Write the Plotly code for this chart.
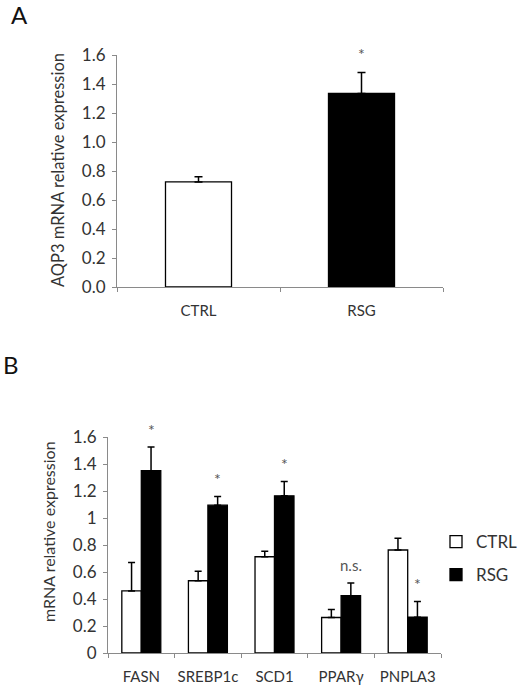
import plotly.graph_objects as go

# Panel A: AQP3 expression
a_groups = ["CTRL", "RSG"]
a_values = [0.725, 1.335]
a_errors = [0.035, 0.145]
a_sig = ["", "*"]

# Panel B: lipogenic genes
b_genes = ["FASN", "SREBP1c", "SCD1", "PPARγ", "PNPLA3"]
b_ctrl = [0.46, 0.535, 0.713, 0.263, 0.763]
b_ctrl_err = [0.21, 0.07, 0.04, 0.06, 0.087]
b_rsg = [1.35, 1.095, 1.164, 0.424, 0.265]
b_rsg_err = [0.175, 0.065, 0.106, 0.094, 0.116]
b_sig = ["*", "*", "*", "n.s.", "*"]

y_ticks = [0, 0.2, 0.4, 0.6, 0.8, 1.0, 1.2, 1.4, 1.6]
a_tick_text = ["0.0", "0.2", "0.4", "0.6", "0.8", "1.0", "1.2", "1.4", "1.6"]
b_tick_text = ["0", "0.2", "0.4", "0.6", "0.8", "1", "1.2", "1.4", "1.6"]

W, H = 520, 685
FONT = "Lato"
TXT = "#333333"
AXIS = "#8a8a8a"


def px_x(p):
    return p / W


def px_y(p):
    return 1 - p / H


fig = go.Figure()

fig.add_trace(go.Bar(
    x=a_groups, y=a_values, width=0.405,
    marker=dict(color=["white", "black"], line=dict(color="black", width=1.3)),
    error_y=dict(type="data", array=a_errors, arrayminus=[0] * len(a_errors), symmetric=False,
                 color="black", thickness=1.5, width=4),
    showlegend=False, xaxis="x", yaxis="y",
))

fig.add_trace(go.Bar(
    x=b_genes, y=b_ctrl, name="CTRL", legendgroup="ctrl",
    marker=dict(color="white", line=dict(color="black", width=1.3)),
    error_y=dict(type="data", array=b_ctrl_err, arrayminus=[0] * len(b_ctrl_err), symmetric=False,
                 color="black", thickness=1.5, width=3.5),
    xaxis="x2", yaxis="y2",
))
fig.add_trace(go.Bar(
    x=b_genes, y=b_rsg, name="RSG", legendgroup="rsg",
    marker=dict(color="black", line=dict(color="black", width=1.3)),
    error_y=dict(type="data", array=b_rsg_err, arrayminus=[0] * len(b_rsg_err), symmetric=False,
                 color="black", thickness=1.5, width=3.5),
    xaxis="x2", yaxis="y2",
))

common_x = dict(showline=True, linecolor=AXIS, linewidth=1, ticks="outside", tickson="boundaries",
                ticklen=4, tickcolor=AXIS, showgrid=False, zeroline=False, tickangle=0,
                tickfont=dict(family=FONT, size=15, color=TXT), ticklabelstandoff=10)
common_y = dict(showline=True, linecolor=AXIS, linewidth=1, ticks="outside", ticklen=4,
                tickcolor=AXIS, showgrid=False, zeroline=False, range=[0, 1.6],
                tickvals=y_ticks, tickfont=dict(family=FONT, size=17, color=TXT),
                ticklabelstandoff=3)

annotations = []
# significance marks, placed just above the error bar caps
for g, v, e, s in zip(a_groups, a_values, a_errors, a_sig):
    if s:
        annotations.append(dict(x=g, y=v + e, xref="x", yref="y", text=s, showarrow=False,
                                yanchor="middle", yshift=19,
                                font=dict(family=FONT, size=16, color="#555555")))
for g, v, e, s in zip(b_genes, b_rsg, b_rsg_err, b_sig):
    annotations.append(dict(x=g, y=v + e, xref="x2", yref="y2", text=s, showarrow=False,
                            xshift=10, yanchor="middle", yshift=18,
                            font=dict(family=FONT, size=15 if s == "n.s." else 16, color="#555555")))

# axis titles and panel letters
annotations += [
    dict(x=px_x(58), y=px_y(170), xref="paper", yref="paper", text="AQP3 mRNA relative expression",
         textangle=-90, showarrow=False, xanchor="center", yanchor="middle",
         font=dict(family=FONT, size=16.5, color=TXT)),
    dict(x=px_x(48), y=px_y(532), xref="paper", yref="paper", text="mRNA relative expression",
         textangle=-90, showarrow=False, xanchor="center", yanchor="middle",
         font=dict(family=FONT, size=16, color=TXT)),
    dict(x=px_x(19), y=px_y(15), xref="paper", yref="paper", text="A",
         showarrow=False, xanchor="center", yanchor="middle",
         font=dict(family=FONT, size=24, color="#111111")),
    dict(x=px_x(11), y=px_y(364), xref="paper", yref="paper", text="B",
         showarrow=False, xanchor="center", yanchor="middle",
         font=dict(family=FONT, size=24, color="#111111")),
]

fig.update_layout(
    width=W, height=H,
    margin=dict(l=0, r=0, t=0, b=0, autoexpand=False),
    paper_bgcolor="white", plot_bgcolor="white",
    barmode="group", bargap=0.415, bargroupgap=0,
    xaxis=dict(domain=[px_x(117), px_x(443)], anchor="y", **common_x),
    yaxis=dict(domain=[px_y(287), px_y(55)], anchor="x", ticktext=a_tick_text, **common_y),
    xaxis2=dict(domain=[px_x(108), px_x(441)], anchor="y2", **common_x),
    yaxis2=dict(domain=[px_y(653), px_y(437)], anchor="x2", ticktext=b_tick_text, **common_y),
    legend=dict(x=px_x(436), y=px_y(524), xanchor="left", yanchor="top",
                font=dict(family=FONT, size=17, color=TXT), tracegroupgap=8,
                bgcolor="rgba(0,0,0,0)"),
    annotations=annotations,
)

# drop the browser's default 8px body margin so the figure sits at the page corner
fig.write_html("out.html", config={"displayModeBar": False},
               post_script="document.body.style.margin = '0';")
